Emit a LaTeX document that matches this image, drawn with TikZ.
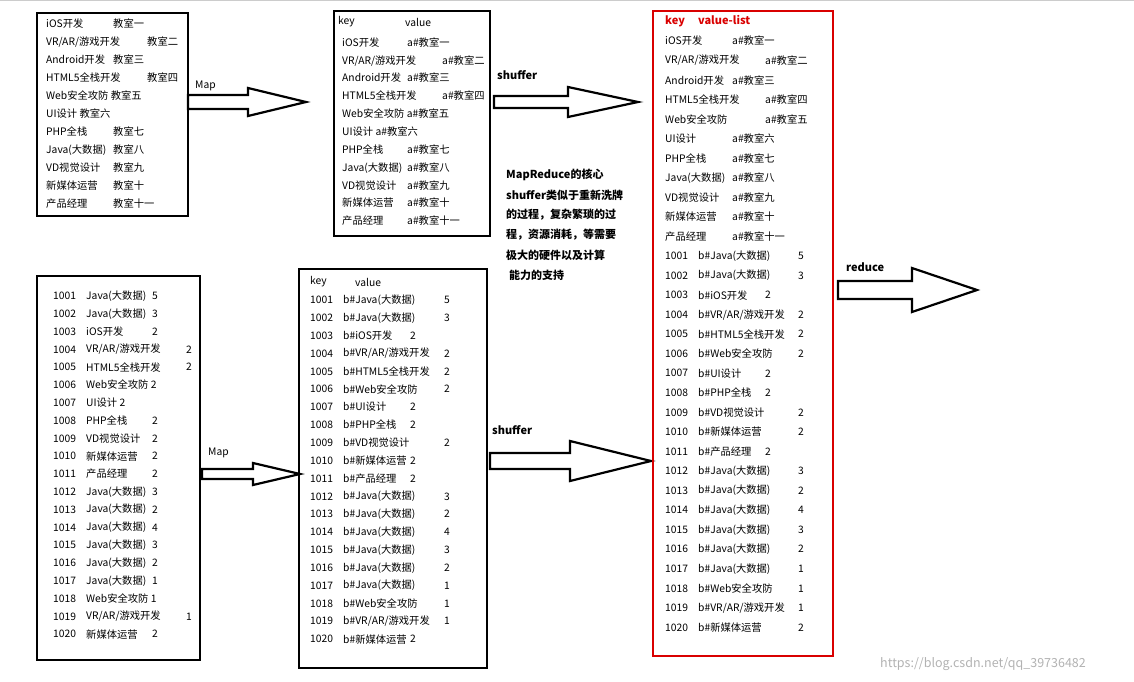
\documentclass[tikz,border=0pt]{standalone}
\usepackage{fontspec}
\setmainfont{Noto Sans CJK SC}
\newcommand\Tx[3]{\node[t] at (#1,#2) {#3};}
\newcommand\Bx[3]{\node[t,font=\fontsize{11}{13}\selectfont\bfseries] at (#1,#2) {#3};}
\newcommand\Barrow[6]{\draw[line width=2.2pt,fill=white,line join=miter] (#1,#4-#5)--(#3,#4-#5)--(#3,#4-#6)--(#2,#4)--(#3,#4+#6)--(#3,#4+#5)--(#1,#4+#5)--cycle;}
\begin{document}
\begin{tikzpicture}[x=1pt,y=-1pt,t/.style={anchor=west,inner sep=0pt,font=\fontsize{10.3}{12}\selectfont},box/.style={draw,line width=2pt}]
\useasboundingbox (0,0) rectangle (1134,682);
\draw[gray!40] (0,0.5)--(1134,0.5);
% box 1
\draw[box] (37,13) rectangle (188,216);
\Tx{46}{24}{iOS开发}\Tx{113}{24}{教室一}
\Tx{46}{42}{VR/AR/游戏开发}\Tx{147}{42}{教室二}
\Tx{46}{60}{Android开发}\Tx{113}{60}{教室三}
\Tx{46}{78}{HTML5全栈开发}\Tx{147}{78}{教室四}
\Tx{46}{96}{Web安全攻防 教室五}
\Tx{46}{114}{UI设计 教室六}
\Tx{46}{132}{PHP全栈}\Tx{113}{132}{教室七}
\Tx{46}{150}{Java(大数据)}\Tx{113}{150}{教室八}
\Tx{46}{168}{VD视觉设计}\Tx{113}{168}{教室九}
\Tx{46}{186}{新媒体运营}\Tx{113}{186}{教室十}
\Tx{46}{204}{产品经理}\Tx{113}{204}{教室十一}
% box 2
\draw[box] (334,11) rectangle (490,236);
\Tx{338}{22}{key}\Tx{405}{22}{value}
\Tx{342}{43}{iOS开发}\Tx{407}{43}{a\#教室一}
\Tx{342}{61}{VR/AR/游戏开发}\Tx{442}{61}{a\#教室二}
\Tx{342}{78}{Android开发}\Tx{407}{78}{a\#教室三}
\Tx{342}{96}{HTML5全栈开发}\Tx{442}{96}{a\#教室四}
\Tx{342}{114}{Web安全攻防 a\#教室五}
\Tx{342}{132}{UI设计 a\#教室六}
\Tx{342}{150}{PHP全栈}\Tx{407}{150}{a\#教室七}
\Tx{342}{168}{Java(大数据)}\Tx{407}{168}{a\#教室八}
\Tx{342}{186}{VD视觉设计}\Tx{407}{186}{a\#教室九}
\Tx{342}{203}{新媒体运营}\Tx{407}{203}{a\#教室十}
\Tx{342}{221}{产品经理}\Tx{407}{221}{a\#教室十一}
% arrows top
\Barrow{188}{306}{248}{102}{7}{14}
\Tx{195}{86}{Map}
\Barrow{494}{638}{568}{102}{6}{15}
\Bx{497}{75}{shuffer}
% text
\Bx{506}{175}{MapReduce的核心}
\Bx{506}{195}{shuffer类似于重新洗牌}
\Bx{506}{215}{的过程，复杂繁琐的过}
\Bx{506}{235}{程，资源消耗，等需要}
\Bx{506}{255}{极大的硬件以及计算}
\Bx{509}{275}{能力的支持}
% box 3
\draw[box] (37,276) rectangle (200,660);
\foreach \i/\n/\c/\cx in {0/Java(大数据)/5/152,1/Java(大数据)/3/152,2/iOS开发/2/152,3/VR\slash AR\slash 游戏开发/2/186,4/HTML5全栈开发/2/186,7/PHP全栈/2/152,8/VD视觉设计/2/152,9/新媒体运营/2/152,10/产品经理/2/152,11/Java(大数据)/3/152,12/Java(大数据)/2/152,13/Java(大数据)/4/152,14/Java(大数据)/3/152,15/Java(大数据)/2/152,16/Java(大数据)/1/152,18/VR\slash AR\slash 游戏开发/1/186,19/新媒体运营/2/152}{
  \pgfmathtruncatemacro\k{1001+\i}
  \node[t] at (53,296+\i*17.8) {\k};
  \node[t] at (86,296+\i*17.8) {\n};
  \node[t] at (\cx,296+\i*17.8) {\c};
}
\Tx{53}{385}{1006}\Tx{86}{385}{Web安全攻防 2}
\Tx{53}{402.8}{1007}\Tx{86}{402.8}{UI设计 2}
\Tx{53}{598.6}{1018}\Tx{86}{598.6}{Web安全攻防 1}
% box 4
\draw[box] (299,269) rectangle (487,668);
\Tx{310}{282}{key}\Tx{355}{282}{value}
\foreach \i/\n/\c/\cx in {0/Java(大数据)/5/444,1/Java(大数据)/3/444,2/iOS开发/2/410,3/VR\slash AR\slash 游戏开发/2/444,4/HTML5全栈开发/2/444,5/Web安全攻防/2/444,6/UI设计/2/410,7/PHP全栈/2/410,8/VD视觉设计/2/444,9/新媒体运营/2/410,10/产品经理/2/410,11/Java(大数据)/3/444,12/Java(大数据)/2/444,13/Java(大数据)/4/444,14/Java(大数据)/3/444,15/Java(大数据)/2/444,16/Java(大数据)/1/444,17/Web安全攻防/1/444,18/VR\slash AR\slash 游戏开发/1/444,19/新媒体运营/2/410}{
  \pgfmathtruncatemacro\k{1001+\i}
  \node[t] at (310,300+\i*17.85) {\k};
  \node[t] at (343,300+\i*17.85) {b\#\n};
  \node[t] at (\cx,300+\i*17.85) {\c};
}
% arrows bottom
\Barrow{202}{300}{253}{474}{5}{11}
\Tx{208}{453}{Map}
\Barrow{490}{651}{570}{461}{8}{20}
\Bx{492}{430}{shuffer}
% box 5
\draw[line width=2pt,red!85!black] (653,11) rectangle (833,656);
\node[t,font=\fontsize{11}{13}\selectfont\bfseries,text=red!85!black] at (665,21) {key\hspace{1.2em}value-list};
\foreach \i/\n/\v/\vx in {0/iOS开发/一/732,1/VR\slash AR\slash 游戏开发/二/765,2/Android开发/三/732,3/HTML5全栈开发/四/765,4/Web安全攻防/五/765,5/UI设计/六/732,6/PHP全栈/七/732,7/Java(大数据)/八/732,8/VD视觉设计/九/732,9/新媒体运营/十/732,10/产品经理/十一/732}{
  \node[t] at (665,41+\i*19.55) {\n};
  \node[t] at (\vx,41+\i*19.55) {a\#教室\v};
}
\foreach \i/\n/\c/\cx in {0/Java(大数据)/5/798,1/Java(大数据)/3/798,2/iOS开发/2/765,3/VR\slash AR\slash 游戏开发/2/798,4/HTML5全栈开发/2/798,5/Web安全攻防/2/798,6/UI设计/2/765,7/PHP全栈/2/765,8/VD视觉设计/2/798,9/新媒体运营/2/798,10/产品经理/2/765,11/Java(大数据)/3/798,12/Java(大数据)/2/798,13/Java(大数据)/4/798,14/Java(大数据)/3/798,15/Java(大数据)/2/798,16/Java(大数据)/1/798,17/Web安全攻防/1/798,18/VR\slash AR\slash 游戏开发/1/798,19/新媒体运营/2/798}{
  \pgfmathtruncatemacro\k{1001+\i}
  \node[t] at (665,256+\i*19.55) {\k};
  \node[t] at (698,256+\i*19.55) {b\#\n};
  \node[t] at (\cx,256+\i*19.55) {\c};
}
\Barrow{838}{977}{912}{290}{9}{22}
\Bx{846}{267}{reduce}
\node[t,text=gray!60,font=\fontsize{12.5}{14}\selectfont] at (880,664) {https://blog.csdn.net/qq\_39736482};
\end{tikzpicture}
\end{document}
